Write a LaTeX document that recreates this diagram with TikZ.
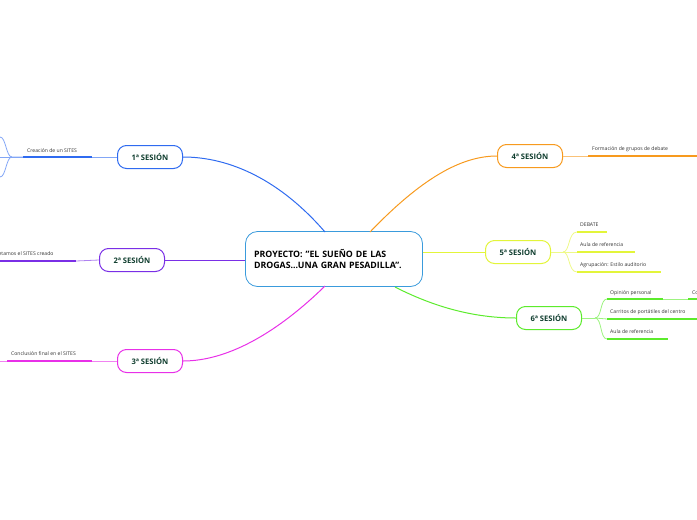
\documentclass[tikz,border=0pt]{standalone}
\usepackage{fontspec}
\setmainfont{Open Sans}
\definecolor{tg}{HTML}{0F3D2E}
\definecolor{cb}{HTML}{2F6BF0}
\definecolor{cp}{HTML}{7A2FE6}
\definecolor{cm}{HTML}{E830E8}
\definecolor{co}{HTML}{F79A1E}
\definecolor{cy}{HTML}{E3F53A}
\definecolor{cg}{HTML}{5CEB2C}
\definecolor{cc}{HTML}{3A9BDC}
\begin{document}
\begin{tikzpicture}[x=1pt,y=-1pt,
 sess/.style={draw=#1,line width=1pt,rounded corners=9pt,minimum width=65pt,minimum height=23pt,inner sep=0pt,font=\fontsize{7.6}{8}\selectfont\bfseries,text=tg,fill=white},
 leaf/.style={font=\fontsize{5.1}{6}\selectfont,text=black!80,anchor=base west,inner sep=0pt},
 conn/.style={draw=#1,line width=1pt},
 thin/.style={draw=#1!60,line width=0.8pt},
 ul/.style={draw=#1,line width=1.4pt}]
\useasboundingbox (0,0) rectangle (697,520);
\node[draw=cc,line width=0.8pt,rounded corners=12pt,minimum width=177pt,minimum height=55pt,fill=white,align=left,text width=160pt,font=\fontsize{8.8}{11}\selectfont\bfseries,text=black] (c) at (334,259) {PROYECTO: "EL SUEÑO DE LAS\\DROGAS...UNA GRAN PESADILLA".};
\node[sess=cb] (s1) at (150,157) {1ª SESIÓN};
\node[sess=cp] (s2) at (132,260) {2ª SESIÓN};
\node[sess=cm] (s3) at (150,361) {3ª SESIÓN};
\node[sess=co] (s4) at (530,156) {4ª SESIÓN};
\node[sess=cy] (s5) at (518,252) {5ª SESIÓN};
\node[sess=cg] (s6) at (549,318) {6ª SESIÓN};
\coordinate (c1) at (325,232); \coordinate (c3) at (325,286);
\coordinate (c4) at (370,232); \coordinate (c6) at (395,287);
\draw[conn=cb] (c1) .. controls (280,180) and (230,157) .. (s1.east);
\draw[conn=cp] (c.west |- s2) -- (s2.east);
\draw[conn=cm] (c3) .. controls (280,330) and (230,361) .. (s3.east);
\draw[conn=co] (c4) .. controls (420,180) and (460,156) .. (s4.west);
\draw[conn=cy] (c.east |- s5) -- (s5.west);
\draw[conn=cg] (c6) .. controls (440,310) and (480,318) .. (s6.west);
% 1
\coordinate (b1) at (12,157);
\draw[thin=cb] (s1.west) -- (92,157) (23,157) -- (0,157);
\draw[ul=cb] (23,157) -- (92,157);
\node[leaf] (l1) at (27,152) {Creación de un SITES};
\draw[thin=cb] (23,157) -- (b1) .. controls (6,157) and (6,137) .. (0,137);
\draw[thin=cb] (b1) .. controls (6,157) and (6,177) .. (0,177);
% 2
\draw[thin=cp] (s2.west) -- (76,261);
\draw[ul=cp] (76,261) -- (0,261);
\node[leaf] (l2) at (-6,255) {pletamos el SITES creado};
% 3
\draw[thin=cm] (s3.west) -- (92,361) (7,361) -- (0,361);
\draw[ul=cm] (7,361) -- (92,361);
\node[leaf] (l3) at (11,355) {Conclusión final en el SITES};
% 4
\draw[thin=co] (s4.east) -- (588,156);
\draw[ul=co] (588,156) -- (697,156);
\node[leaf] (l4) at (592,150) {Formación de grupos de debate};
% 5
\coordinate (b5) at (563,252);
\draw[thin=cy] (s5.east) -- (b5);
\draw[thin=cy] (b5) .. controls (570,252) and (568,232) .. (577,232);
\draw[thin=cy] (b5) -- (577,252);
\draw[thin=cy] (b5) .. controls (570,252) and (568,272) .. (577,272);
\draw[ul=cy] (577,232) -- (607,232);
\draw[ul=cy] (577,252) -- (635,252);
\draw[ul=cy] (577,272) -- (661,272);
\node[leaf] (l51) at (580,226) {DEBATE};
\node[leaf] (l52) at (580,246) {Aula de referencia};
\node[leaf] (l53) at (580,266) {Agrupación: Estilo auditorio};
% 6
\coordinate (b6) at (595,318);
\draw[thin=cg] (s6.east) -- (b6);
\draw[thin=cg] (b6) .. controls (602,318) and (600,299) .. (607,299);
\draw[thin=cg] (b6) -- (607,319);
\draw[thin=cg] (b6) .. controls (602,318) and (600,339) .. (607,339);
\draw[ul=cg] (607,299) -- (663,299);
\draw[thin=cg] (663,299) -- (688,299);
\draw[ul=cg] (688,299) -- (697,299);
\draw[ul=cg] (607,319) -- (697,319);
\draw[ul=cg] (607,339) -- (668,339);
\node[leaf] (l61) at (610,294) {Opinión personal};
\node[leaf] (l62) at (692,294) {Co};
\node[leaf] (l63) at (610,313) {Carritos de portátiles del centro};
\node[leaf] (l64) at (610,333) {Aula de referencia};
\end{tikzpicture}
\end{document}
